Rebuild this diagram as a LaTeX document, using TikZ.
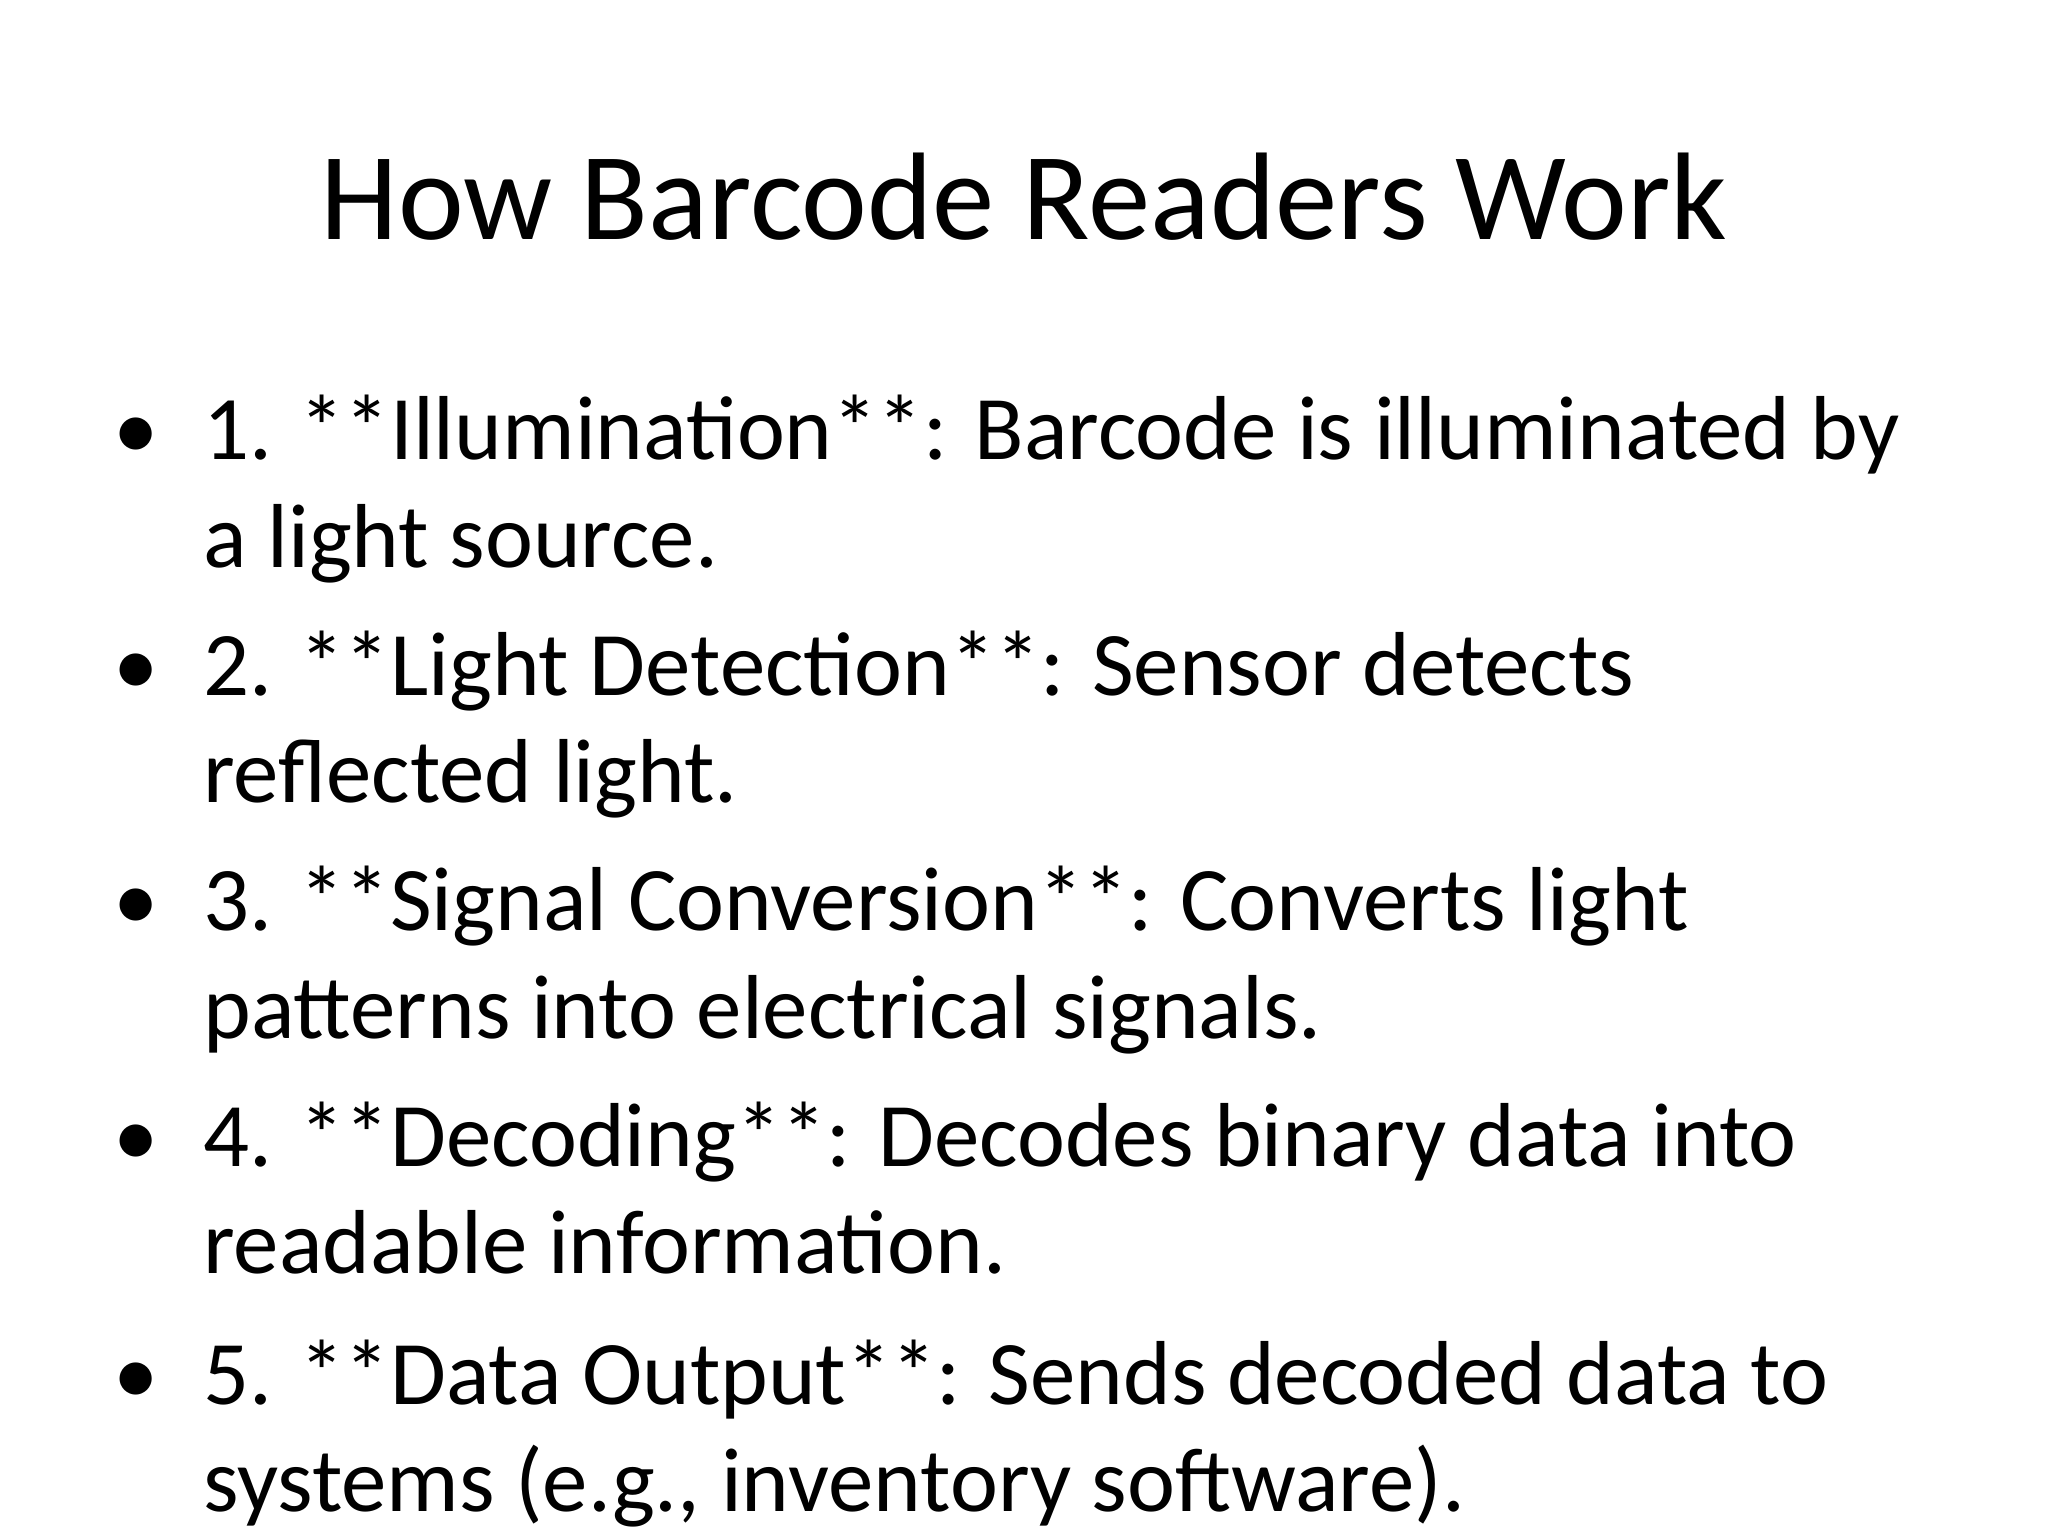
\documentclass[tikz,border=0pt]{standalone}
\usepackage{fontspec}
\setmainfont{Carlito}
\begin{document}
\begin{tikzpicture}[x=1cm,y=1cm,
  body/.style={anchor=base west,inner sep=0pt,font=\fontsize{20.2}{24}\selectfont},
  bul/.style={anchor=base,inner sep=0pt,font=\fontsize{20.2}{24}\selectfont}]
\useasboundingbox (0,0) rectangle (16,12);
\node[anchor=base,inner sep=0pt,font=\fontsize{27.7}{32}\selectfont] (title) at (8,10.13) {How Barcode Readers Work};
\foreach \y/\n in {8.41/a,6.57/b,4.73/c,2.89/d,1.03/e}{\node[bul] (b\n) at (1.06,\y) {•};}
\node[body] (l1) at (1.582,8.41) {1. **Illumination**: Barcode is illuminated by};
\node[body] (l2) at (1.582,7.57) {a light source.};
\node[body] (l3) at (1.582,6.57) {2. **Light Detection**: Sensor detects};
\node[body] (l4) at (1.582,5.73) {reflected light.};
\node[body] (l5) at (1.582,4.73) {3. **Signal Conversion**: Converts light};
\node[body] (l6) at (1.582,3.89) {patterns into electrical signals.};
\node[body] (l7) at (1.582,2.89) {4. **Decoding**: Decodes binary data into};
\node[body] (l8) at (1.582,2.05) {readable information.};
\node[body] (l9) at (1.582,1.03) {5. **Data Output**: Sends decoded data to};
\node[body] (l10) at (1.582,0.19) {systems (e.g., inventory software).};
\end{tikzpicture}
\end{document}
